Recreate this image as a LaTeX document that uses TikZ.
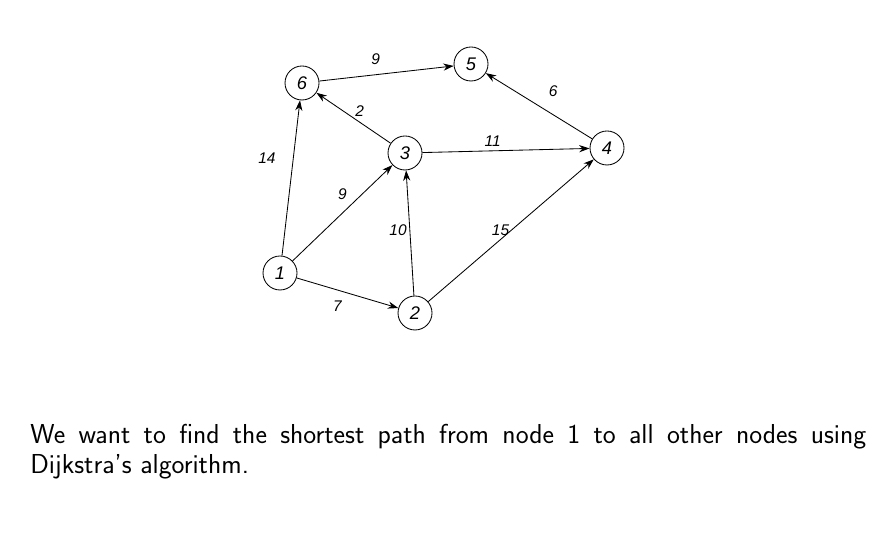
\documentclass[tikz,border=0pt]{standalone}
\usepackage{fontspec}
\newfontfamily\graphfont{Liberation Sans}
\usetikzlibrary{arrows.meta}
\begin{document}
\begin{tikzpicture}
	\tikzstyle{vertex} = [circle,draw,line width=0.6pt,minimum size=0.85cm,inner sep=0,font=\graphfont\itshape\fontsize{13}{13}\selectfont]
	\tikzstyle{arc} = [-{Stealth[length=2.6mm,width=1.8mm]},line width=0.6pt]
	\tikzstyle{weight} = [inner sep=1pt,font=\graphfont\itshape\fontsize{11}{11}\selectfont]
	\useasboundingbox (0,0) rectangle (22.4,-13.375);
	\node [vertex] (n1) at (7.0,-6.825) {1};
	\node [vertex] (n2) at (10.375,-7.825) {2};
	\node [vertex] (n3) at (10.125,-3.825) {3};
	\node [vertex] (n4) at (15.175,-3.7) {4};
	\node [vertex] (n5) at (11.775,-1.6) {5};
	\node [vertex] (n6) at (7.55,-2.075) {6};
	
	\draw [arc] (n1) edge node[weight, left=0.4cm, pos=0.63] {14} (n6);
	\draw [arc] (n1) edge node[weight, above=0.3cm, pos=0.5] {9} (n3);
	\draw [arc] (n1) edge node[weight, below=0.22cm, pos=0.4] {7} (n2);
	\draw [arc] (n2) edge node[weight, left=1pt, pos=0.52] {10} (n3);
	\draw [arc] (n2) edge node[weight, left=0pt, pos=0.5] {15} (n4);
	\draw [arc] (n3) edge node[weight, above right=0pt, pos=0.5] {2} (n6);
	\draw [arc] (n3) edge node[weight, above=2pt, pos=0.42] {11} (n4);
	\draw [arc] (n4) edge node[weight, above right=0.2cm, pos=0.5] {6} (n5);
	\draw [arc] (n6) edge node[weight, above=6pt, pos=0.42] {9} (n5);
	
	\node [text width=20.9cm, align=justify, anchor=north west, inner sep=0,
		font=\sffamily\fontsize{19.5}{21}\selectfont] (task) at (0.75,-10.6)
		{\baselineskip=21pt We want to find the shortest path from node 1 to all other nodes using\linebreak Dijkstra's algorithm.};
\end{tikzpicture}
\end{document}
